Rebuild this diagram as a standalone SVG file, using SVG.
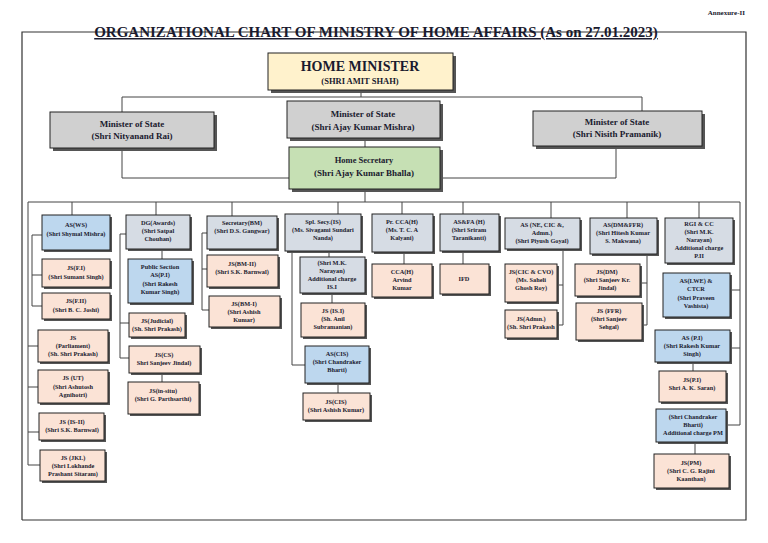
<svg xmlns="http://www.w3.org/2000/svg" width="768" height="543" viewBox="0 0 768 543">
<style>
text{font-family:"Liberation Serif","Times New Roman",serif;font-weight:bold;fill:#1a1a2e;text-anchor:middle}
.s{font-size:6.3px}
.sh{fill:#555}
.b{stroke:#222;stroke-width:1}
.g{fill:#d6dce4}.bl{fill:#bdd7ee}.p{fill:#fbe3d6}.gr{fill:#d0d0d0}
#conn line,#conn polyline{stroke:#444;stroke-width:1;fill:none}
</style>
<rect width="768" height="543" fill="#fff"/>
<text x="745" y="15" style="font-size:7px;text-anchor:end">Annexure-II</text>
<polyline points="22,520 22,32 746,32 746,520 22,520" fill="none" stroke="#333" stroke-width="1.2"/>
<text x="376" y="37" style="font-size:15px;text-decoration:underline">ORGANIZATIONAL CHART OF MINISTRY OF HOME AFFAIRS (As on 27.01.2023)</text>
<g id="conn">
<polyline points="361,90 361,97"/><polyline points="122,112 122,97 642,97 642,111"/>
<polyline points="122,148 122,178 289,178"/><polyline points="616,146 616,178 440,178"/>
<polyline points="365,138 365,147"/><polyline points="365,189 365,202"/>
<polyline points="28,465 28,202 740,202 740,425"/>
<line x1="72" y1="202" x2="72" y2="215"/><line x1="156" y1="202" x2="156" y2="215"/><line x1="232" y1="202" x2="232" y2="216"/><line x1="338" y1="202" x2="338" y2="214"/><line x1="402" y1="202" x2="402" y2="214"/><line x1="463" y1="202" x2="463" y2="214"/><line x1="551" y1="202" x2="551" y2="218"/><line x1="627" y1="202" x2="627" y2="218"/><line x1="699" y1="202" x2="699" y2="218"/>
<polyline points="42,235 32,235 32,306 42,306"/><line x1="32" y1="275" x2="42" y2="275"/>
<line x1="28" y1="346" x2="38" y2="346"/><line x1="28" y1="387" x2="38" y2="387"/><line x1="28" y1="432" x2="39" y2="432"/><line x1="28" y1="465" x2="40" y2="465"/>
<polyline points="126,234 120,234 120,358 129,358"/><line x1="120" y1="323" x2="129" y2="323"/><line x1="162" y1="249" x2="162" y2="259"/><line x1="162" y1="373" x2="162" y2="382"/>
<polyline points="207,233 202,233 202,310 209,310"/><line x1="202" y1="269" x2="207" y2="269"/>
<polyline points="292,251 292,365 305,365"/><line x1="329" y1="251" x2="329" y2="257"/><line x1="332" y1="293" x2="332" y2="303"/><line x1="338" y1="383" x2="338" y2="393"/>
<line x1="404" y1="252" x2="404" y2="264"/><line x1="463" y1="251" x2="463" y2="264"/>
<polyline points="563,249 563,325 557,325"/><line x1="557" y1="285" x2="563" y2="285"/>
<polyline points="647,254 647,325 642,325"/><line x1="640" y1="283" x2="647" y2="283"/>
<line x1="730" y1="290" x2="740" y2="290"/><line x1="730" y1="348" x2="740" y2="348"/><line x1="726" y1="425" x2="740" y2="425"/>
<line x1="693" y1="362" x2="693" y2="371"/><line x1="695" y1="442" x2="695" y2="454"/>
</g>
<g id="hm"><rect class="sh" x="271" y="56" width="185" height="37"/><rect class="b" x="268" y="53" width="185" height="37" fill="#fff2cc"/><text x="360" y="71" style="font-size:14px">HOME MINISTER</text><text x="360" y="84" style="font-size:8.5px">(SHRI AMIT SHAH)</text></g>
<g id="mos1"><rect class="sh" x="53" y="115" width="164" height="36"/><rect class="b gr" x="50" y="112" width="164" height="36"/><text x="132" y="127" style="font-size:9px">Minister of State</text><text x="132" y="139" style="font-size:9px">(Shri Nityanand Rai)</text></g>
<g id="mos2"><rect class="sh" x="290" y="104" width="153" height="37"/><rect class="b gr" x="287" y="101" width="153" height="37"/><text x="363" y="117" style="font-size:9px">Minister of State</text><text x="363" y="130" style="font-size:9px">(Shri Ajay Kumar Mishra)</text></g>
<g id="mos3"><rect class="sh" x="536" y="114" width="169" height="35"/><rect class="b gr" x="533" y="111" width="169" height="35"/><text x="617" y="125" style="font-size:9px">Minister of State</text><text x="617" y="137" style="font-size:9px">(Shri  Nisith Pramanik)</text></g>
<g id="hs"><rect class="sh" x="292" y="150" width="151" height="42"/><rect class="b" x="289" y="147" width="151" height="42" fill="#c6e0b4"/><text x="364" y="163" style="font-size:8.5px">Home Secretary</text><text x="364" y="176" style="font-size:9px">(Shri Ajay Kumar Bhalla)</text></g>

<g id="asws"><rect class="sh" x="44" y="217" width="68" height="35"/><rect class="b bl" x="42" y="215" width="68" height="35"/><text class="s" x="76" y="227">AS(WS)</text><text class="s" x="76" y="236">(Shri Shymal Mishra)</text></g>
<g id="jsf1"><rect class="sh" x="44" y="261" width="68" height="28"/><rect class="b p" x="42" y="259" width="68" height="28"/><text class="s" x="76" y="270">JS(F.I)</text><text class="s" x="76" y="279">(Shri Sumant Singh)</text></g>
<g id="jsf2"><rect class="sh" x="44" y="295" width="68" height="26"/><rect class="b p" x="42" y="293" width="68" height="26"/><text class="s" x="76" y="303">JS(F.II)</text><text class="s" x="76" y="312">(Shri B. C. Joshi)</text></g>
<g id="jsparl"><rect class="sh" x="40" y="332" width="70" height="32"/><rect class="b p" x="38" y="330" width="70" height="32"/><text class="s" x="73" y="340">JS</text><text class="s" x="73" y="348">(Parliament)</text><text class="s" x="73" y="356">(Sh. Shri Prakash)</text></g>
<g id="jsut"><rect class="sh" x="40" y="372" width="70" height="33"/><rect class="b p" x="38" y="370" width="70" height="33"/><text class="s" x="73" y="380">JS (UT)</text><text class="s" x="73" y="389">(Shri Ashutosh</text><text class="s" x="73" y="397">Agnihotri)</text></g>
<g id="jsis2"><rect class="sh" x="41" y="415" width="65" height="27"/><rect class="b p" x="39" y="413" width="65" height="27"/><text class="s" x="72" y="424">JS (IS-II)</text><text class="s" x="72" y="432">(Shri S.K. Barnwal)</text></g>
<g id="jsjkl"><rect class="sh" x="42" y="452" width="65" height="31"/><rect class="b p" x="40" y="450" width="65" height="31"/><text class="s" x="73" y="460">JS (JKL)</text><text class="s" x="73" y="468">(Shri  Lokhande</text><text class="s" x="73" y="476">Prashant Sitaram)</text></g>

<g id="dg"><rect class="sh" x="128" y="217" width="64" height="34"/><rect class="b g" x="126" y="215" width="64" height="34"/><text class="s" x="158" y="225">DG(Awards)</text><text class="s" x="158" y="233">(Shri Satpal</text><text class="s" x="158" y="241">Chouhan)</text></g>
<g id="ps"><rect class="sh" x="130" y="261" width="64" height="44"/><rect class="b bl" x="128" y="259" width="64" height="44"/><text class="s" x="160" y="269">Public Section</text><text class="s" x="160" y="277">AS(P.I)</text><text class="s" x="160" y="286">(Shri Rakesh</text><text class="s" x="160" y="294">Kumar Singh)</text></g>
<g id="jsjud"><rect class="sh" x="131" y="315" width="56" height="24"/><rect class="b p" x="129" y="313" width="56" height="24"/><text class="s" x="157" y="323">JS(Judicial)</text><text class="s" x="157" y="331">(Sh. Shri Prakash)</text></g>
<g id="jscs"><rect class="sh" x="131" y="348" width="71" height="27"/><rect class="b p" x="129" y="346" width="71" height="27"/><text class="s" x="164" y="357">JS(CS)</text><text class="s" x="164" y="365">Shri Sanjeev Jindal)</text></g>
<g id="jsinsitu"><rect class="sh" x="130" y="384" width="71" height="32"/><rect class="b p" x="128" y="382" width="71" height="32"/><text class="s" x="163" y="393">JS(in-situ)</text><text class="s" x="163" y="401">(Shri G. Parthsarthi)</text></g>

<g id="secbm"><rect class="sh" x="209" y="218" width="70" height="33"/><rect class="b g" x="207" y="216" width="70" height="33"/><text class="s" x="242" y="225">Secretary(BM)</text><text class="s" x="242" y="233">(Shri D.S. Gangwar)</text></g>
<g id="jsbm2"><rect class="sh" x="209" y="257" width="71" height="32"/><rect class="b p" x="207" y="255" width="71" height="32"/><text class="s" x="242" y="266">JS(BM-II)</text><text class="s" x="242" y="274">(Shri S.K. Barnwal)</text></g>
<g id="jsbm1"><rect class="sh" x="211" y="298" width="71" height="31"/><rect class="b p" x="209" y="296" width="71" height="31"/><text class="s" x="244" y="306">JS(BM-I)</text><text class="s" x="244" y="314">(Shri Ashish</text><text class="s" x="244" y="322">Kumar)</text></g>

<g id="splsecy"><rect class="sh" x="287" y="216" width="76" height="37"/><rect class="b g" x="285" y="214" width="76" height="37"/><text class="s" x="323" y="224">Spl. Secy.(IS)</text><text class="s" x="323" y="232">(Ms. Sivagami Sundari</text><text class="s" x="323" y="240">Nanda)</text></g>
<g id="mkn"><rect class="sh" x="302" y="259" width="65" height="36"/><rect class="b g" x="300" y="257" width="65" height="36"/><text class="s" x="332" y="265">(Shri  M.K.</text><text class="s" x="332" y="273">Narayan)</text><text class="s" x="332" y="281">Additional charge</text><text class="s" x="332" y="289">IS.I</text></g>
<g id="jsis1"><rect class="sh" x="303" y="305" width="64" height="34"/><rect class="b p" x="301" y="303" width="64" height="34"/><text class="s" x="333" y="313">JS (IS.I)</text><text class="s" x="333" y="321">(Sh. Anil</text><text class="s" x="333" y="329">Subramanian)</text></g>
<g id="ascis"><rect class="sh" x="307" y="348" width="64" height="37"/><rect class="b bl" x="305" y="346" width="64" height="37"/><text class="s" x="337" y="356">AS(CIS)</text><text class="s" x="337" y="364">(Shri Chandraker</text><text class="s" x="337" y="372">Bharti)</text></g>
<g id="jscis"><rect class="sh" x="305" y="395" width="67" height="27"/><rect class="b p" x="303" y="393" width="67" height="27"/><text class="s" x="336" y="404">JS(CIS)</text><text class="s" x="336" y="412">(Shri Ashish Kumar)</text></g>

<g id="prcca"><rect class="sh" x="374" y="216" width="61" height="38"/><rect class="b g" x="372" y="214" width="61" height="38"/><text class="s" x="402" y="224">Pr. CCA(H)</text><text class="s" x="402" y="232">(Ms. T. C. A</text><text class="s" x="402" y="240">Kalyani)</text></g>
<g id="cca"><rect class="sh" x="374" y="266" width="60" height="33"/><rect class="b p" x="372" y="264" width="60" height="33"/><text class="s" x="402" y="274">CCA(H)</text><text class="s" x="402" y="282">Arvind</text><text class="s" x="402" y="290">Kumar</text></g>
<g id="asfa"><rect class="sh" x="442" y="216" width="59" height="37"/><rect class="b g" x="440" y="214" width="59" height="37"/><text class="s" x="469" y="224">AS&amp;FA (H)</text><text class="s" x="469" y="232">(Shri Sriram</text><text class="s" x="469" y="240">Taranikanti)</text></g>
<g id="ifd"><rect class="sh" x="442" y="266" width="49" height="30"/><rect class="b p" x="440" y="264" width="49" height="30"/><text class="s" x="464" y="281">IFD</text></g>

<g id="asne"><rect class="sh" x="507" y="220" width="75" height="31"/><rect class="b g" x="505" y="218" width="75" height="31"/><text class="s" x="542" y="227">AS (NE, CIC &amp;,</text><text class="s" x="542" y="235">Admn.)</text><text class="s" x="542" y="243">(Shri Piyush Goyal)</text></g>
<g id="jscic"><rect class="sh" x="507" y="266" width="52" height="38"/><rect class="b p" x="505" y="264" width="52" height="38"/><text class="s" x="531" y="274">JS(CIC &amp; CVO)</text><text class="s" x="531" y="282">(Ms.      Saheli</text><text class="s" x="531" y="290">Ghosh Roy)</text></g>
<g id="jsadmn"><rect class="sh" x="507" y="312" width="52" height="28"/><rect class="b p" x="505" y="310" width="52" height="28"/><text class="s" x="531" y="321">JS(Admn.)</text><text class="s" x="531" y="329">(Sh. Shri Prakash</text></g>

<g id="asdm"><rect class="sh" x="592" y="220" width="67" height="36"/><rect class="b g" x="590" y="218" width="67" height="36"/><text class="s" x="623" y="227">AS(DM&amp;FFR)</text><text class="s" x="623" y="235">(Shri Hitesh Kumar</text><text class="s" x="623" y="243">S. Makwana)</text></g>
<g id="jsdm"><rect class="sh" x="577" y="266" width="65" height="32"/><rect class="b p" x="575" y="264" width="65" height="32"/><text class="s" x="607" y="274">JS(DM)</text><text class="s" x="607" y="282">(Shri Sanjeev Kr.</text><text class="s" x="607" y="290">Jindal)</text></g>
<g id="jsffr"><rect class="sh" x="578" y="305" width="66" height="37"/><rect class="b p" x="576" y="303" width="66" height="37"/><text class="s" x="609" y="313">JS (FFR)</text><text class="s" x="609" y="321">(Shri Sanjeev</text><text class="s" x="609" y="329">Sehgal)</text></g>

<g id="rgi"><rect class="sh" x="667" y="220" width="68" height="45"/><rect class="b g" x="665" y="218" width="68" height="45"/><text class="s" x="699" y="226">RGI &amp; CC</text><text class="s" x="699" y="234">(Shri  M.K.</text><text class="s" x="699" y="242">Narayan)</text><text class="s" x="699" y="250">Additional charge</text><text class="s" x="699" y="258">P.II</text></g>
<g id="aslwe"><rect class="sh" x="665" y="275" width="67" height="44"/><rect class="b bl" x="663" y="273" width="67" height="44"/><text class="s" x="696" y="283">AS(LWE) &amp;</text><text class="s" x="696" y="291">CTCR</text><text class="s" x="696" y="300">(Shri Praveen</text><text class="s" x="696" y="308">Vashista)</text></g>
<g id="aspi"><rect class="sh" x="657" y="332" width="75" height="32"/><rect class="b bl" x="655" y="330" width="75" height="32"/><text class="s" x="692" y="340">AS (P.I)</text><text class="s" x="692" y="348">(Shri Rakesh Kumar</text><text class="s" x="692" y="356">Singh)</text></g>
<g id="jspi"><rect class="sh" x="661" y="373" width="67" height="31"/><rect class="b p" x="659" y="371" width="67" height="31"/><text class="s" x="692" y="382">JS(P.I)</text><text class="s" x="692" y="390">Shri A. K. Saran)</text></g>
<g id="cb"><rect class="sh" x="658" y="411" width="70" height="33"/><rect class="b bl" x="656" y="409" width="70" height="33"/><text class="s" x="693" y="419">(Shri Chandraker</text><text class="s" x="693" y="427">Bharti)</text><text class="s" x="693" y="435">Additional charge PM</text></g>
<g id="jspm"><rect class="sh" x="656" y="456" width="75" height="34"/><rect class="b p" x="654" y="454" width="75" height="34"/><text class="s" x="691" y="465">JS(PM)</text><text class="s" x="691" y="473">(Shri  C. G. Rajini</text><text class="s" x="691" y="481">Kaanthan)</text></g>
</svg>
